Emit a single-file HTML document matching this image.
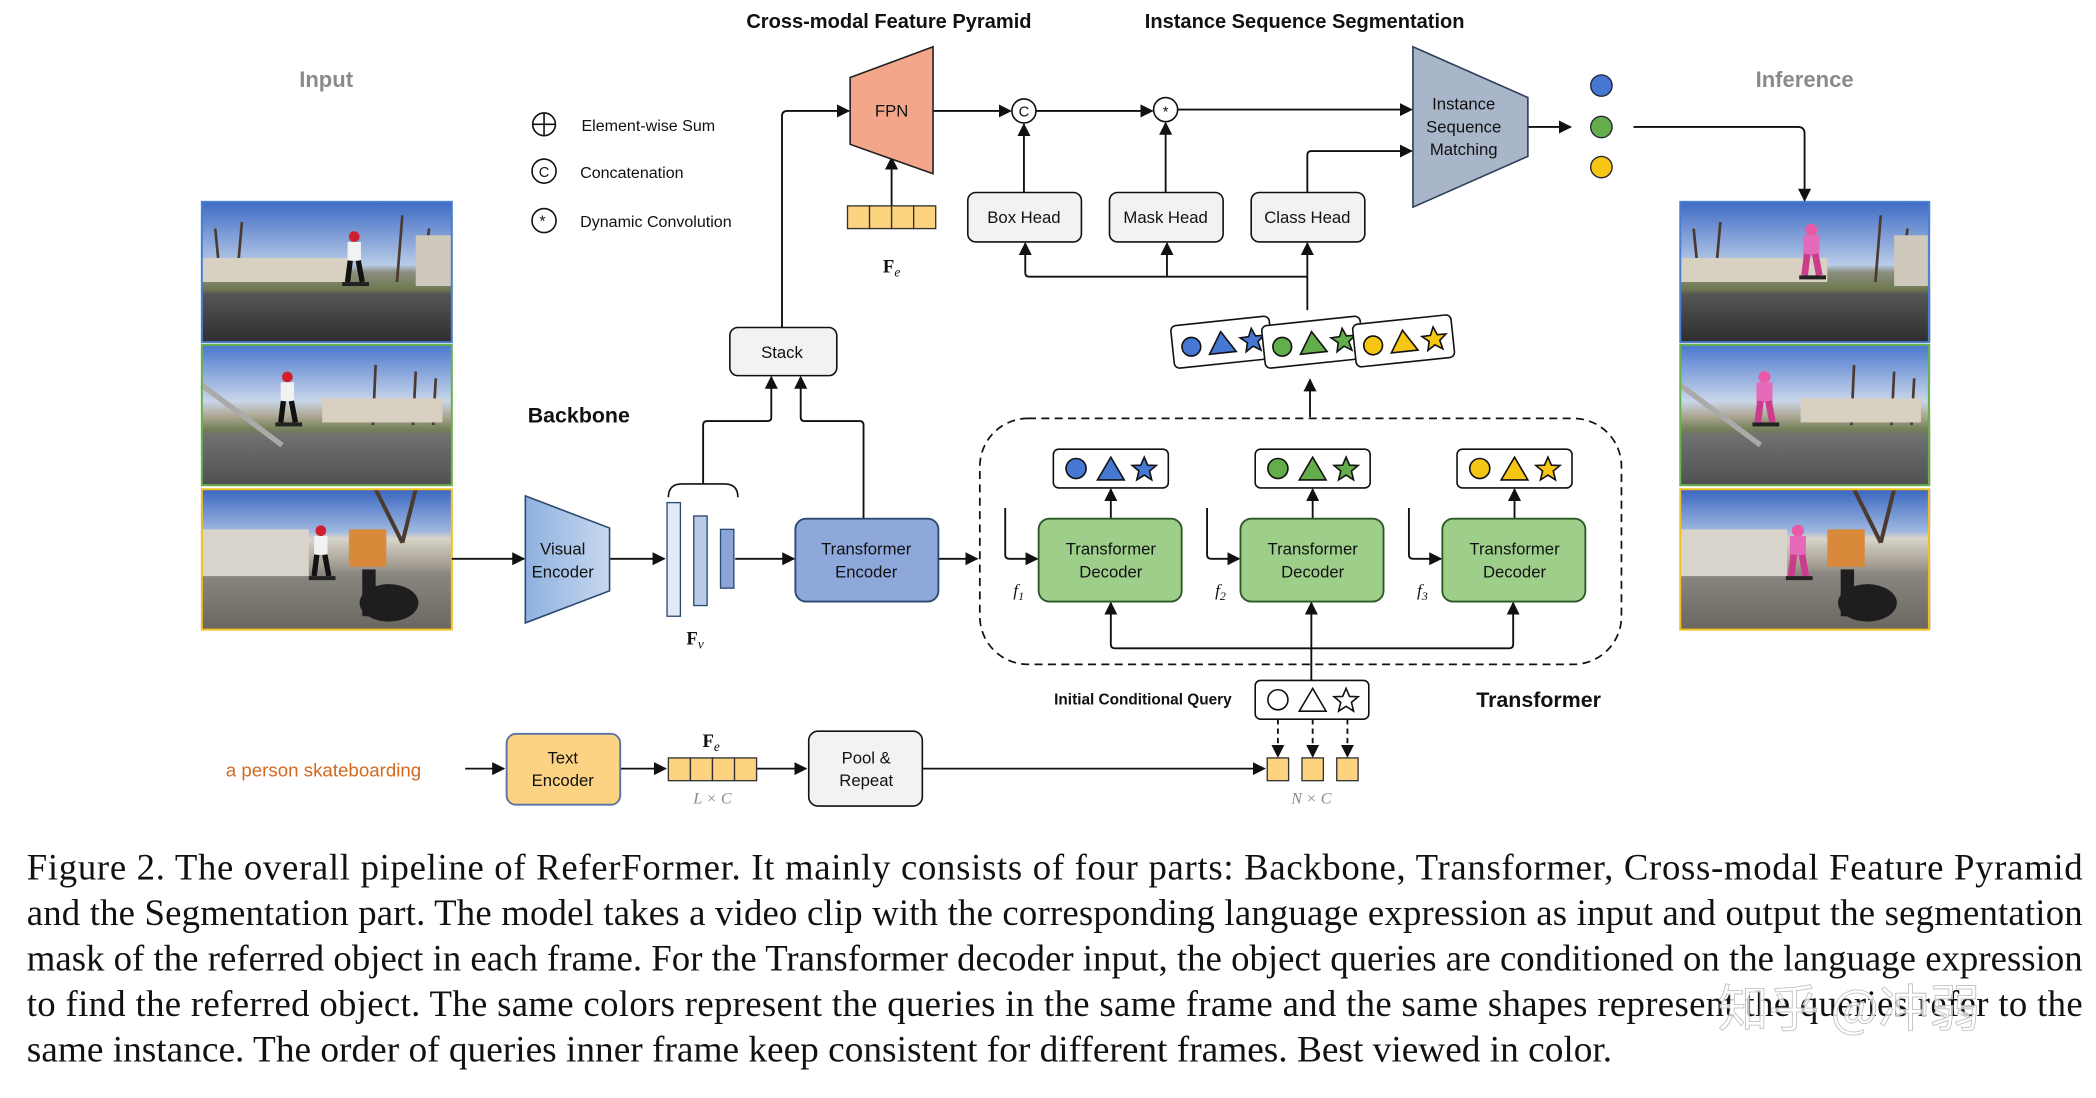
<!DOCTYPE html>
<html><head><meta charset="utf-8"><style>
html,body{margin:0;padding:0;background:#fff;}
svg{display:block;}
.s{font-family:"Liberation Sans",sans-serif;}
.cap{font-family:"Liberation Serif",serif;font-size:27.5px;fill:#111;}
</style></head><body>
<svg width="2096" height="1098" viewBox="0 0 1568 821.4" xmlns="http://www.w3.org/2000/svg">
<defs>
<marker id="ar" viewBox="0 0 10 10" refX="9" refY="5" markerWidth="7" markerHeight="7" orient="auto-start-reverse"><path d="M0,0 L10,5 L0,10 z" fill="#111"/></marker>
<linearGradient id="sky" x1="0" y1="0" x2="0" y2="1"><stop offset="0" stop-color="#3f6bc4"/><stop offset="0.45" stop-color="#b8cbe8"/><stop offset="0.5" stop-color="#8c8f80"/><stop offset="0.62" stop-color="#6f7a50"/><stop offset="0.66" stop-color="#555"/><stop offset="1" stop-color="#2e2e30"/></linearGradient>
<linearGradient id="sky2" x1="0" y1="0" x2="0" y2="1"><stop offset="0" stop-color="#4a78cf"/><stop offset="0.4" stop-color="#c9d6ea"/><stop offset="0.5" stop-color="#b0aa98"/><stop offset="0.6" stop-color="#75805a"/><stop offset="0.65" stop-color="#707070"/><stop offset="1" stop-color="#505050"/></linearGradient>
<linearGradient id="sky3" x1="0" y1="0" x2="0" y2="1"><stop offset="0" stop-color="#3a66c0"/><stop offset="0.3" stop-color="#9fb8e0"/><stop offset="0.35" stop-color="#d8d4c8"/><stop offset="0.55" stop-color="#a09a90"/><stop offset="0.6" stop-color="#8a8680"/><stop offset="1" stop-color="#6a6660"/></linearGradient>
<linearGradient id="ve" x1="0" y1="0" x2="1" y2="0"><stop offset="0" stop-color="#8fb1de"/><stop offset="1" stop-color="#c6d8ef"/></linearGradient>
<g id="p1"><rect width="187" height="105" fill="url(#sky)"/><path d="M10 20 L14 60 M30 15 L26 60 M150 10 L146 60 M170 20 L165 60" stroke="#4a3a30" stroke-width="2"/><rect x="160" y="25" width="27" height="38" fill="#cfc8bc"/><rect x="0" y="42" width="110" height="18" fill="#d8d0c0"/></g>
<g id="p2"><rect width="187" height="105" fill="url(#sky2)"/><path d="M0 30 L60 75" stroke="#aaa" stroke-width="4"/><path d="M130 15 L128 60 M160 20 L158 60 M175 25 L173 60" stroke="#4a3a30" stroke-width="2"/><rect x="90" y="40" width="90" height="18" fill="#d8d0c0"/></g>
<g id="p3"><rect width="187" height="105" fill="url(#sky3)"/><rect x="0" y="30" width="80" height="35" fill="#d8d4cc"/><rect x="110" y="30" width="28" height="28" fill="#d88a3a"/><path d="M130 0 L150 40 M160 0 L150 40" stroke="#4a3a30" stroke-width="3"/><ellipse cx="140" cy="85" rx="22" ry="14" fill="#1e1e1e"/><rect x="120" y="60" width="10" height="35" fill="#1e1e1e"/></g>
<g id="sk"><circle cx="0" cy="-8" r="4" fill="#d02030"/><rect x="-5" y="-4" width="10" height="14" fill="#f2f2f2"/><path d="M-3 10 L-5 26 M3 10 L6 26" stroke="#111" stroke-width="4"/><rect x="-9" y="26" width="20" height="3" fill="#222"/></g>
<g id="skp"><circle cx="0" cy="-8" r="4.5" fill="#e85aa8"/><rect x="-6" y="-4" width="12" height="15" fill="#e66aba"/><path d="M-3 10 L-5 26 M3 10 L6 26" stroke="#cc3c8c" stroke-width="5"/><rect x="-9" y="26" width="20" height="3" fill="#222"/></g>
<path id="star" d="M0,-9 L2.6,-3 L9,-2.8 L4,1.4 L5.6,8 L0,4.4 L-5.6,8 L-4,1.4 L-9,-2.8 L-2.6,-3 z"/>
</defs>
<rect width="1568" height="821.4" fill="#fff"/>

<g class="s" font-weight="bold" font-size="15" text-anchor="middle" fill="#111">
<text x="665" y="21">Cross-modal Feature Pyramid</text>
<text x="976" y="21">Instance Sequence Segmentation</text>
<text x="433" y="316" font-size="16">Backbone</text>
<text x="1151" y="529" font-size="16">Transformer</text>
<text x="855" y="527" font-size="11.5">Initial Conditional Query</text>
</g>
<g class="s" font-weight="bold" font-size="16.5" text-anchor="middle" fill="#8a8a8a">
<text x="244" y="65">Input</text><text x="1350" y="65">Inference</text>
</g>

<g stroke="#111" stroke-width="1.2" fill="none">
<circle cx="407" cy="93" r="8.5"/><path d="M398.5 93 H415.5 M407 84.5 V101.5"/>
<circle cx="407" cy="128" r="9"/><circle cx="407" cy="165" r="9"/>
</g>
<g class="s" font-size="12" fill="#111">
<text x="403" y="132.5" font-size="11">C</text><text x="403.5" y="169.5" font-size="12">*</text>
<text x="435" y="98">Element-wise Sum</text>
<text x="434" y="133">Concatenation</text>
<text x="434" y="170">Dynamic Convolution</text>
</g>

<use href="#p1" x="151" y="151"/><use href="#sk" x="265" y="185"/><rect x="151" y="151" width="187" height="105" fill="none" stroke="#4a7fd0" stroke-width="1.5"/>
<use href="#p2" x="151" y="258"/><use href="#sk" x="215" y="290"/><rect x="151" y="258" width="187" height="105" fill="none" stroke="#6ab04c" stroke-width="1.5"/>
<use href="#p3" x="151" y="366"/><use href="#sk" x="240" y="405"/><rect x="151" y="366" width="187" height="105" fill="none" stroke="#f0c020" stroke-width="1.5"/>
<use href="#p1" x="1257" y="151"/><use href="#skp" x="1355" y="180"/><rect x="1257" y="151" width="186" height="105" fill="none" stroke="#4a7fd0" stroke-width="1.5"/>
<use href="#p2" x="1257" y="258"/><use href="#skp" x="1320" y="290"/><rect x="1257" y="258" width="186" height="105" fill="none" stroke="#6ab04c" stroke-width="1.5"/>
<use href="#p3" x="1257" y="366"/><use href="#skp" x="1345" y="405"/><rect x="1257" y="366" width="186" height="105" fill="none" stroke="#f0c020" stroke-width="1.5"/>

<g stroke="#111" stroke-width="1.4" fill="none" marker-end="url(#ar)">
<path d="M338 418 H392"/>
<path d="M456 418 H497"/>
<path d="M550 418 H594"/>
<path d="M702 418 H731"/>
<path d="M526 362 V318 Q526 315 529 315 H574 Q577 315 577 312 V282"/>
<path d="M646 388 V318 Q646 315 643 315 H602 Q599 315 599 312 V282"/>
<path d="M585 245 V87 Q585 83 589 83 H635"/>
<path d="M667 154 V118"/>
<path d="M698 83 H756"/>
<path d="M775 83 H862"/>
<path d="M881 82 H1056"/>
<path d="M766 144 V93"/>
<path d="M872 144 V92"/>
<path d="M978 144 V116 Q978 113 981 113 H1056"/>
<path d="M1143 95 H1175"/>
<path d="M1222 95 H1345 Q1350 95 1350 100 V150"/>
<path d="M978 232 V182"/>
<path d="M978 207 H770 Q767 207 767 204 V182"/>
<path d="M873 207 V182"/>
<path d="M980 312 V284"/>
<path d="M831 388 V366"/><path d="M982 388 V366"/><path d="M1133 388 V366"/>
<path d="M752 380 V415 Q752 418 755 418 H776"/>
<path d="M903 380 V415 Q903 418 906 418 H927"/>
<path d="M1054 380 V415 Q1054 418 1057 418 H1078"/>
<path d="M981 509 V451"/>
<path d="M981 485 H834 Q831 485 831 482 V451"/>
<path d="M981 485 H1129 Q1132 485 1132 482 V451"/>
<path d="M348 575 H377"/>
<path d="M464 575 H498"/>
<path d="M566 575 H603"/>
<path d="M690 575 H946"/>
<path d="M956 538 V566" stroke-dasharray="4 3"/>
<path d="M982 538 V566" stroke-dasharray="4 3"/>
<path d="M1008 538 V566" stroke-dasharray="4 3"/>
</g>
<path d="M500 372 Q500 362 510 362 H542 Q552 362 552 372" fill="none" stroke="#111" stroke-width="1.2"/>

<g stroke="#111" stroke-width="1.2" fill="#fff"><circle cx="766" cy="83" r="9"/><circle cx="872" cy="82" r="9"/></g>
<g class="s" font-size="11" fill="#111" text-anchor="middle"><text x="766" y="87">C</text><text x="872" y="87">*</text></g>

<path d="M393 371 L456 395 L456 442 L393 466 Z" fill="url(#ve)" stroke="#2d4a70" stroke-width="1.2"/>
<rect x="499" y="376" width="10" height="85" fill="#e2eaf7" stroke="#2d4a70"/>
<rect x="519" y="386" width="10" height="67" fill="#b9cbeb" stroke="#2d4a70"/>
<rect x="539" y="396" width="10" height="44" fill="#8aa4d8" stroke="#2d4a70"/>
<rect x="595" y="388" width="107" height="62" rx="8" fill="#8ea8dc" stroke="#2d4a70" stroke-width="1.4"/>
<rect x="546" y="245" width="80" height="36" rx="6" fill="#f2f2f2" stroke="#111" stroke-width="1.2"/>
<path d="M636 58 L698 35 L698 130 L636 108 Z" fill="#f3a68a" stroke="#222" stroke-width="1.2"/>
<g fill="#fcd37f" stroke="#333" stroke-width="1"><rect x="634" y="154" width="16.5" height="17"/><rect x="650.5" y="154" width="16.5" height="17"/><rect x="667" y="154" width="16.5" height="17"/><rect x="683.5" y="154" width="16.5" height="17"/></g>
<g fill="#f2f2f2" stroke="#111" stroke-width="1.2">
<rect x="724" y="144" width="85" height="37" rx="6"/><rect x="830" y="144" width="85" height="37" rx="6"/><rect x="936" y="144" width="85" height="37" rx="6"/>
</g>
<path d="M1057 35 L1143 73 L1143 117 L1057 155 Z" fill="#a9b5c9" stroke="#2d3f5a" stroke-width="1.2"/>
<circle cx="1198" cy="64" r="8" fill="#4677d2" stroke="#223"/>
<circle cx="1198" cy="95" r="8" fill="#63ad4a" stroke="#223"/>
<circle cx="1198" cy="125" r="8" fill="#f7c514" stroke="#223"/>

<g stroke="#111" stroke-width="1.2">
<g transform="translate(914 256) rotate(-6)"><rect x="-37" y="-16" width="74" height="32" rx="4" fill="#fff"/><circle cx="-23" cy="1" r="7" fill="#4677d2"/><path d="M-10 8 L0 -8 L10 8 Z" fill="#4677d2"/><use href="#star" x="23" y="1" fill="#4677d2"/></g>
<g transform="translate(982 256) rotate(-6)"><rect x="-37" y="-16" width="74" height="32" rx="4" fill="#fff"/><circle cx="-23" cy="1" r="7" fill="#63ad4a"/><path d="M-10 8 L0 -8 L10 8 Z" fill="#63ad4a"/><use href="#star" x="23" y="1" fill="#63ad4a"/></g>
<g transform="translate(1050 255) rotate(-6)"><rect x="-37" y="-16" width="74" height="32" rx="4" fill="#fff"/><circle cx="-23" cy="1" r="7" fill="#f7c514"/><path d="M-10 8 L0 -8 L10 8 Z" fill="#f7c514"/><use href="#star" x="23" y="1" fill="#f7c514"/></g>
</g>

<rect x="733" y="313" width="480" height="184" rx="36" fill="none" stroke="#111" stroke-width="1.3" stroke-dasharray="6 4"/>
<g fill="#9ecf8a" stroke="#2b5a26" stroke-width="1.4">
<rect x="777" y="388" width="107" height="62" rx="8"/><rect x="928" y="388" width="107" height="62" rx="8"/><rect x="1079" y="388" width="107" height="62" rx="8"/>
</g>
<g stroke="#111" stroke-width="1.2">
<rect x="788" y="336" width="86" height="29" rx="4" fill="#fff"/>
<circle cx="805" cy="350.5" r="7.5" fill="#4677d2"/><path d="M821 359 L831 342 L841 359 Z" fill="#4677d2"/><use href="#star" x="856" y="351" fill="#4677d2"/>
<rect x="939" y="336" width="86" height="29" rx="4" fill="#fff"/>
<circle cx="956" cy="350.5" r="7.5" fill="#63ad4a"/><path d="M972 359 L982 342 L992 359 Z" fill="#63ad4a"/><use href="#star" x="1007" y="351" fill="#63ad4a"/>
<rect x="1090" y="336" width="86" height="29" rx="4" fill="#fff"/>
<circle cx="1107" cy="350.5" r="7.5" fill="#f7c514"/><path d="M1123 359 L1133 342 L1143 359 Z" fill="#f7c514"/><use href="#star" x="1158" y="351" fill="#f7c514"/>
<rect x="939" y="509" width="85" height="29" rx="4" fill="#fff"/>
<circle cx="956" cy="523.5" r="7.5" fill="#fff"/><path d="M972 532 L982 515 L992 532 Z" fill="#fff"/><use href="#star" x="1007" y="524" fill="#fff"/>
</g>
<g font-size="13" fill="#111" font-style="italic" style="font-family:'Liberation Serif',serif">
<text x="758" y="446">f<tspan font-size="9" dy="3">1</tspan></text>
<text x="909" y="446">f<tspan font-size="9" dy="3">2</tspan></text>
<text x="1060" y="446">f<tspan font-size="9" dy="3">3</tspan></text>
</g>

<rect x="379" y="549" width="85" height="53" rx="7" fill="#fcd382" stroke="#5573a8" stroke-width="1.4"/>
<g fill="#fcd37f" stroke="#333" stroke-width="1"><rect x="500" y="567" width="16.5" height="17"/><rect x="516.5" y="567" width="16.5" height="17"/><rect x="533" y="567" width="16.5" height="17"/><rect x="549.5" y="567" width="16.5" height="17"/>
<rect x="948" y="567" width="16" height="17"/><rect x="974" y="567" width="16" height="17"/><rect x="1000" y="567" width="16" height="17"/></g>
<rect x="605" y="547" width="85" height="56" rx="7" fill="#f2f2f2" stroke="#111" stroke-width="1.2"/>

<g class="s" font-size="12.5" fill="#111" text-anchor="middle">
<text x="421" y="415">Visual</text><text x="421" y="432">Encoder</text>
<text x="648" y="415">Transformer</text><text x="648" y="432">Encoder</text>
<text x="585" y="268">Stack</text>
<text x="667" y="87">FPN</text>
<text x="766" y="167">Box Head</text><text x="872" y="167">Mask Head</text><text x="978" y="167">Class Head</text>
<text x="1095" y="82">Instance</text><text x="1095" y="99">Sequence</text><text x="1095" y="116">Matching</text>
<text x="831" y="415">Transformer</text><text x="831" y="432">Decoder</text>
<text x="982" y="415">Transformer</text><text x="982" y="432">Decoder</text>
<text x="1133" y="415">Transformer</text><text x="1133" y="432">Decoder</text>
<text x="421" y="571">Text</text><text x="421" y="588">Encoder</text>
<text x="648" y="571">Pool &amp;</text><text x="648" y="588">Repeat</text>
<text x="242" y="581" fill="#d2691e" font-size="14">a person skateboarding</text>
</g>
<g font-family="Liberation Serif,serif" text-anchor="middle" fill="#111">
<text x="667" y="204" font-weight="bold" font-size="14">F<tspan font-style="italic" font-weight="normal" font-size="10" dy="3">e</tspan></text>
<text x="520" y="482" font-weight="bold" font-size="14">F<tspan font-style="italic" font-weight="normal" font-size="10" dy="3">v</tspan></text>
<text x="532" y="559" font-weight="bold" font-size="14">F<tspan font-style="italic" font-weight="normal" font-size="10" dy="3">e</tspan></text>
<text x="533" y="601" font-style="italic" font-size="12" fill="#888">L × C</text>
<text x="981" y="601" font-style="italic" font-size="12" fill="#888">N × C</text>
</g>

<g class="cap">
<text x="20" y="658" textLength="1538" lengthAdjust="spacing">Figure 2.  The overall pipeline of ReferFormer.  It mainly consists of four parts: Backbone, Transformer, Cross-modal Feature Pyramid</text>
<text x="20" y="692" textLength="1538" lengthAdjust="spacing">and the Segmentation part. The model takes a video clip with the corresponding language expression as input and output the segmentation</text>
<text x="20" y="726" textLength="1538" lengthAdjust="spacing">mask of the referred object in each frame. For the Transformer decoder input, the object queries are conditioned on the language expression</text>
<text x="20" y="760" textLength="1538" lengthAdjust="spacing">to find the referred object. The same colors represent the queries in the same frame and the same shapes represent the queries refer to the</text>
<text x="20" y="794" textLength="1186" lengthAdjust="spacingAndGlyphs">same instance. The order of queries inner frame keep consistent for different frames. Best viewed in color.</text>
</g>
<text x="1285" y="768" font-family="'Noto Sans CJK SC',sans-serif" font-size="38" fill="#ffffff" fill-opacity="0.75" stroke="#bbb" stroke-width="0.6">知乎 @冲弱</text>
</svg>
</body></html>
